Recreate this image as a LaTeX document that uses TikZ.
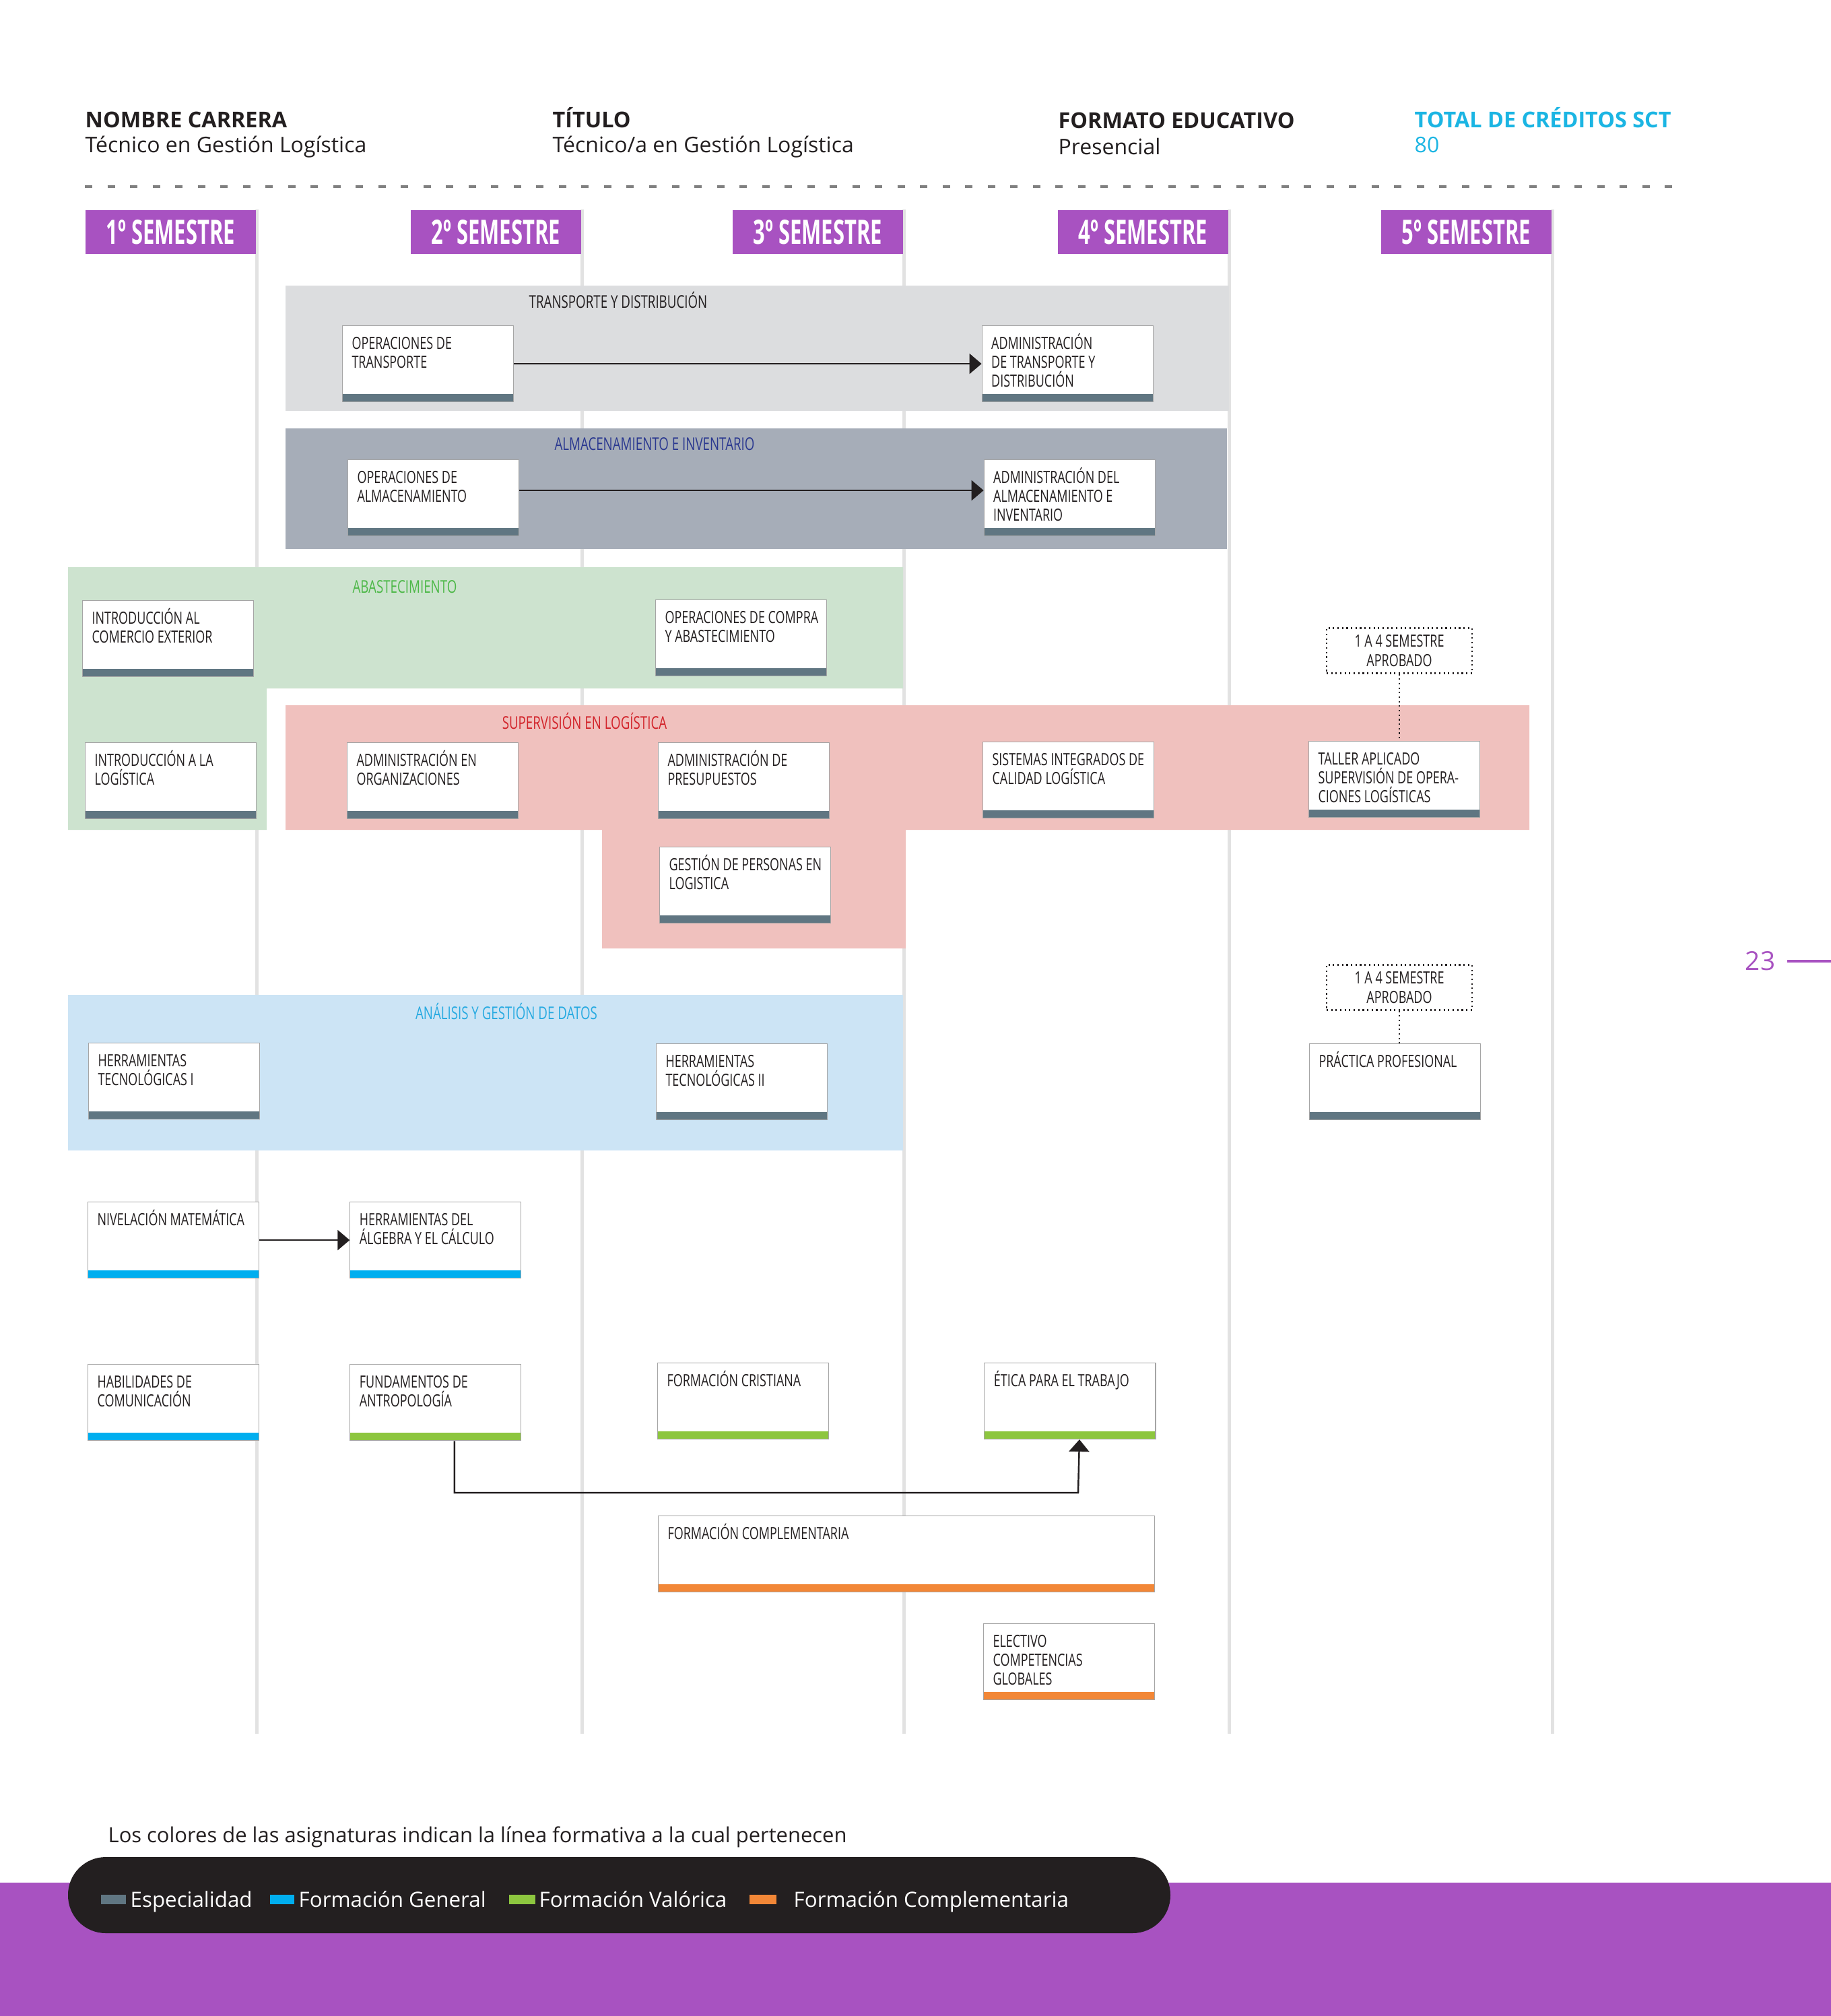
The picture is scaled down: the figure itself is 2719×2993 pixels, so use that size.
\documentclass[tikz,border=0pt]{standalone}
\usepackage{fontspec}
\setmainfont{Open Sans}
\newfontfamily\condfont[FakeStretch=0.72]{Open Sans}
\newfontfamily\semfont[FakeStretch=0.62]{Open Sans}
\usepackage{xcolor}
\usepackage{tikz}
\usetikzlibrary{arrows.meta, positioning}

\definecolor{semestre}{RGB}{168,82,193}
\definecolor{gridgray}{RGB}{226,226,226}
\definecolor{dashgray}{RGB}{128,128,128}
\definecolor{especial}{RGB}{96,118,130}
\definecolor{general}{RGB}{0,174,239}
\definecolor{valorica}{RGB}{141,198,63}
\definecolor{complem}{RGB}{242,135,55}
\definecolor{bandtransp}{RGB}{220,221,223}
\definecolor{bandalm}{RGB}{166,173,184}
\definecolor{bandabast}{RGB}{205,227,207}
\definecolor{bandsuperv}{RGB}{240,193,190}
\definecolor{banddatos}{RGB}{204,228,245}
\definecolor{titalm}{RGB}{43,57,144}
\definecolor{titabast}{RGB}{77,184,72}
\definecolor{titsuperv}{RGB}{210,35,42}
\definecolor{titdatos}{RGB}{39,170,225}
\definecolor{creditos}{RGB}{27,181,227}
\definecolor{pill}{RGB}{35,31,32}
\definecolor{boxline}{RGB}{165,165,165}
\definecolor{ink}{RGB}{35,31,32}

% course box text: top aligned, first baseline 0.35cm below the top
\newcommand{\crs}[2][2.36cm]{\hspace*{0.14cm}\parbox[c][1.13cm][t]{#1}{\raggedright\rule{0pt}{0.35cm}#2}\hspace*{0.04cm}}

\begin{document}
\begin{tikzpicture}[
        x=0.01cm, y=-0.01cm,
        course/.style={draw=boxline, line width=0.3pt, fill=white, anchor=north west, inner sep=0pt, text=ink, font=\condfont\fontsize{7.1}{8}\selectfont,
            path picture={\fill[#1] ([yshift=0.12cm]path picture bounding box.south west) rectangle (path picture bounding box.south east);}},
        semester/.style={fill=semestre, text=white, anchor=north west, minimum width=2.53cm, minimum height=0.65cm, inner sep=0pt, font=\semfont\bfseries\fontsize{14.2}{16}\selectfont},
        bandtitle/.style={anchor=base, inner sep=0pt, font=\condfont\fontsize{7.4}{9}\selectfont},
        req/.style={draw=ink, line width=0.6pt, dash pattern=on 0.6pt off 1.3pt, minimum width=2.16cm, minimum height=0.67cm, inner sep=0pt, align=center, text=ink, font=\condfont\fontsize{7.1}{8}\selectfont},
        arrow/.style={draw=ink, line width=0.7pt, -{Triangle[length=0.18cm, width=0.3cm]}},
        dotline/.style={draw=ink, line width=0.6pt, dash pattern=on 0.6pt off 1.3pt},
        gridline/.style={draw=gridgray, line width=0.05cm},
        headt/.style={anchor=base west, inner sep=0pt, text=ink, font=\bfseries\fontsize{9.2}{11}\selectfont},
        headv/.style={anchor=base west, inner sep=0pt, text=ink, font=\fontsize{9.1}{11}\selectfont},
        legend/.style={anchor=base west, inner sep=0pt, text=white, font=\fontsize{8.9}{11}\selectfont}
    ]
        \path[use as bounding box, fill=white] (0,0) rectangle (2719,2993);

        % Header
        \node[headt] (nombre) at (126,189) {NOMBRE CARRERA};
        \node[headv] (carrera) at (126,226) {Técnico en Gestión Logística};
        \node[headt] (titulo) at (820,189) {TÍTULO};
        \node[headv] (tecnico) at (820,226) {Técnico/a en Gestión Logística};
        \node[headt] (formato) at (1571,190) {FORMATO EDUCATIVO};
        \node[headv] (presencial) at (1571,229) {Presencial};
        \node[headt, text=creditos] (total) at (2100,189) {TOTAL DE CRÉDITOS SCT};
        \node[headv, text=creditos] (sct) at (2100,226) {80};
        \draw[dashgray, line width=0.04cm, dash pattern=on 0.11cm off 0.225cm] (126,277) -- (2490,277);

        % Semester columns
        \draw[gridline] (381,311) -- (381,2574);
        \draw[gridline] (864,311) -- (864,2574);
        \draw[gridline] (1342,311) -- (1342,2574);
        \draw[gridline] (1825,311) -- (1825,2574);
        \draw[gridline] (2305,311) -- (2305,2574);
        \node[semester] (sem1) at (126,311) {1º SEMESTRE\hspace{0.36cm}};
        \node[semester] (sem2) at (609,311) {2º SEMESTRE};
        \node[semester] (sem3) at (1087,311) {3º SEMESTRE};
        \node[semester] (sem4) at (1570,311) {4º SEMESTRE};
        \node[semester] (sem5) at (2050,311) {5º SEMESTRE};

        % Lines of specialty
        \fill[bandtransp] (424,424) rectangle (1825,610);
        \fill[bandalm] (424,636) rectangle (1822,815);
        \fill[bandabast] (101,842) -- (1341,842) -- (1341,1022) -- (396,1022) -- (396,1232) -- (101,1232) -- cycle;
        \fill[bandsuperv] (424,1047) -- (2271,1047) -- (2271,1232) -- (1345,1232) -- (1345,1408) -- (894,1408) -- (894,1232) -- (424,1232) -- cycle;
        \fill[banddatos] (101,1477) rectangle (1341,1708);
        \node[bandtitle, text=ink] (ttransp) at (918,457) {TRANSPORTE Y DISTRIBUCIÓN};
        \node[bandtitle, text=titalm] (talm) at (972,668) {ALMACENAMIENTO E INVENTARIO};
        \node[bandtitle, text=titabast] (tabast) at (601,880) {ABASTECIMIENTO};
        \node[bandtitle, text=titsuperv] (tsuperv) at (868,1082) {SUPERVISIÓN EN LOGÍSTICA};
        \node[bandtitle, text=titdatos] (tdatos) at (752,1513) {ANÁLISIS Y GESTIÓN DE DATOS};

        % Especialidad
        \node[course=especial] (optrans) at (508,483) {\crs{OPERACIONES DE\\TRANSPORTE}};
        \node[course=especial, right=6.94cm of optrans] (admtrans) {\crs{ADMINISTRACIÓN\\DE TRANSPORTE Y\\DISTRIBUCIÓN}};
        \node[course=especial] (opalm) at (516,682) {\crs{OPERACIONES DE\\ALMACENAMIENTO}};
        \node[course=especial, right=6.89cm of opalm] (admalm) {\crs{ADMINISTRACIÓN DEL\\ALMACENAMIENTO E\\INVENTARIO}};
        \node[course=especial] (intcom) at (122,891) {\crs{INTRODUCCIÓN AL\\COMERCIO EXTERIOR}};
        \node[course=especial] (opcompra) at (973,890) {\crs{OPERACIONES DE COMPRA\\Y ABASTECIMIENTO}};
        \node[course=especial] (intlog) at (126,1102) {\crs{INTRODUCCIÓN A LA\\LOGÍSTICA}};
        \node[course=especial] (admorg) at (515,1102) {\crs{ADMINISTRACIÓN EN\\ORGANIZACIONES}};
        \node[course=especial] (admpres) at (977,1102) {\crs{ADMINISTRACIÓN DE\\PRESUPUESTOS}};
        \node[course=especial] (sistcal) at (1459,1101) {\crs{SISTEMAS INTEGRADOS DE\\CALIDAD LOGÍSTICA}};
        \node[course=especial] (taller) at (1943,1100) {\crs{TALLER APLICADO\\SUPERVISIÓN DE OPERA-\\CIONES LOGÍSTICAS}};
        \node[course=especial] (gestper) at (979,1257) {\crs{GESTIÓN DE PERSONAS EN\\LOGISTICA}};
        \node[course=especial] (herrtec1) at (131,1548) {\crs{HERRAMIENTAS\\TECNOLÓGICAS I}};
        \node[course=especial] (herrtec2) at (974,1549) {\crs{HERRAMIENTAS\\TECNOLÓGICAS II}};
        \node[course=especial] (practica) at (1944,1549) {\crs{PRÁCTICA PROFESIONAL}};

        % Requisites of 5th semester
        \node[req] (req1) at (2078,966) {1 A 4 SEMESTRE\\APROBADO};
        \node[req] (req2) at (2078,1466) {1 A 4 SEMESTRE\\APROBADO};

        % Formación general, valórica y complementaria
        \node[course=general] (nivmat) at (130,1784) {\crs{NIVELACIÓN MATEMÁTICA}};
        \node[course=general, right=1.34cm of nivmat] (herralg) {\crs{HERRAMIENTAS DEL\\ÁLGEBRA Y EL CÁLCULO}};
        \node[course=general, below=1.27cm of nivmat] (habcom) {\crs{HABILIDADES DE\\COMUNICACIÓN}};
        \node[course=valorica, below=1.27cm of herralg] (fundant) {\crs{FUNDAMENTOS DE\\ANTROPOLOGÍA}};
        \node[course=valorica] (formcris) at (976,2023) {\crs{FORMACIÓN CRISTIANA}};
        \node[course=valorica, right=2.30cm of formcris] (etica) {\crs{ÉTICA PARA EL TRABAJO}};
        \node[course=complem] (formcomp) at (977,2250) {\crs[7.19cm]{FORMACIÓN COMPLEMENTARIA}};
        \node[course=complem] (electivo) at (1460,2410) {\crs{ELECTIVO\\COMPETENCIAS\\GLOBALES}};

        % Prerequisites
        \draw[arrow] (optrans) -- (admtrans);
        \draw[arrow] ([yshift=0.11cm]opalm.east) -- ([yshift=0.11cm]admalm.west);
        \draw[arrow] (nivmat) -- (herralg);
        \coordinate (codo) at (1601,2216);
        \draw[arrow] ([xshift=0.28cm]fundant.south) |- (codo) -- ([xshift=0.14cm]etica.south);
        \draw[dotline] (req1.south) -- (req1.south |- taller.north);
        \draw[dotline] (req2.south) -- (req2.south |- practica.north);

        % Page number
        \node[anchor=base, inner sep=0pt, text=semestre, font=\fontsize{11}{13}\selectfont] (pagina) at (2614,1440) {23};
        \coordinate (pagini) at (2654,1427);
        \coordinate (pagfin) at (2719,1427);
        \draw[semestre, line width=0.04cm] (pagini) -- (pagfin);

        % Legend
        \node[anchor=base west, inner sep=0pt, text=ink, font=\fontsize{8.8}{11}\selectfont] (nota) at (160,2735) {Los colores de las asignaturas indican la línea formativa a la cual pertenecen};
        \fill[semestre] (0,2795) rectangle (2719,2993);
        \fill[pill, rounded corners=0.56cm] (101,2757) rectangle (1738,2870);
        \fill[especial] (150,2813) rectangle (187,2827);
        \node[legend] (lesp) at (193,2831) {Especialidad};
        \fill[general] (401,2813) rectangle (437,2827);
        \node[legend] (lgen) at (443,2831) {Formación General};
        \fill[valorica] (756,2813) rectangle (795,2827);
        \node[legend] (lval) at (800,2831) {Formación Valórica};
        \fill[complem] (1113,2813) rectangle (1153,2827);
        \node[legend] (lcom) at (1178,2831) {Formación Complementaria};
    \end{tikzpicture}
\end{document}
